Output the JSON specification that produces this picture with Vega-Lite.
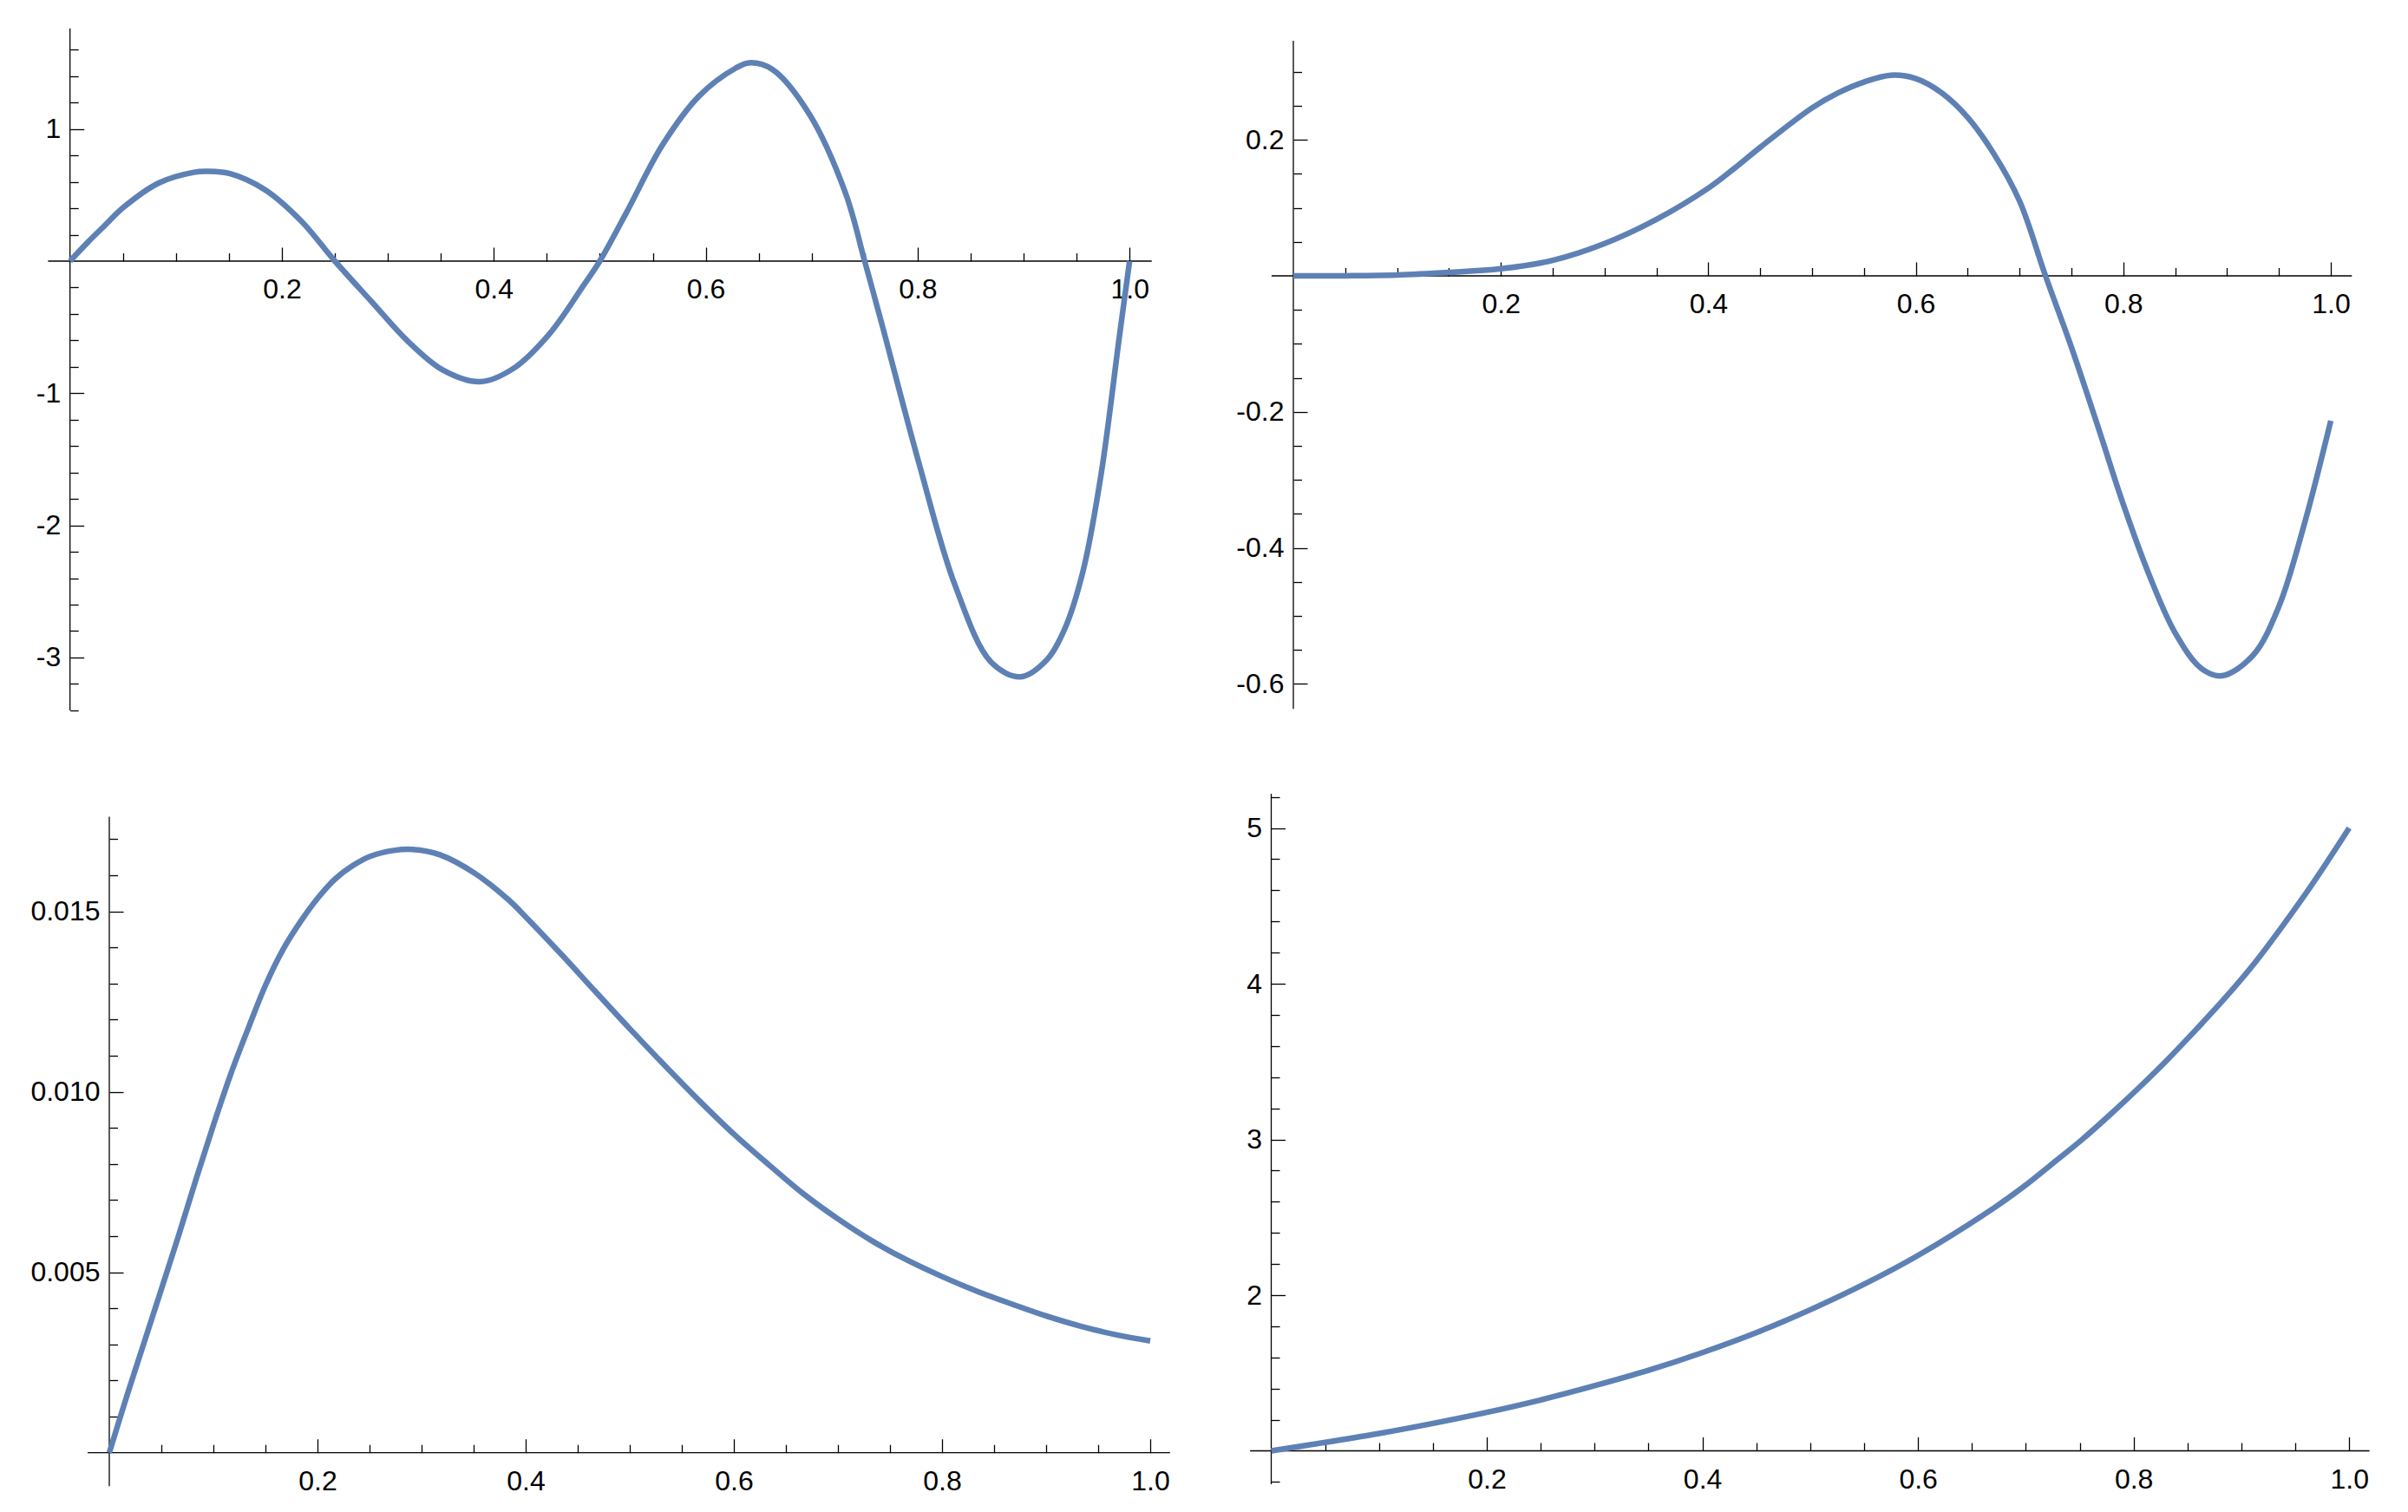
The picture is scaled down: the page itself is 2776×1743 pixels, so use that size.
{
  "$schema": "https://vega.github.io/schema/vega-lite/v6.json",
  "padding": {"left": 20, "top": 31, "right": 5, "bottom": 5},
  "background": "white",
  "config": {
    "view": {"stroke": null},
    "axis": {
      "domain": false,
      "grid": false,
      "labelFont": "Liberation Sans",
      "labelFontSize": 32,
      "labelColor": "black",
      "tickColor": "black",
      "tickWidth": 1.3,
      "labelFlush": false,
      "labelOverlap": false
    },
    "axisX": {"labelPadding": 33.6},
    "axisY": {"labelPadding": 27},
    "line": {"color": "#5E81B5", "strokeWidth": 6.5, "interpolate": "catmull-rom"},
    "rule": {"color": "black", "strokeWidth": 1.3}
  },
  "datasets": {
    "curve1": [
      {"x": 0, "y": 0}, {"x": 0.0167, "y": 0.142}, {"x": 0.0335, "y": 0.275}, {"x": 0.0502, "y": 0.405},
      {"x": 0.0837, "y": 0.591}, {"x": 0.117, "y": 0.672}, {"x": 0.129, "y": 0.679}, {"x": 0.151, "y": 0.662},
      {"x": 0.184, "y": 0.54}, {"x": 0.218, "y": 0.305}, {"x": 0.25, "y": 0}, {"x": 0.285, "y": -0.31},
      {"x": 0.318, "y": -0.6}, {"x": 0.352, "y": -0.825}, {"x": 0.387, "y": -0.913}, {"x": 0.418, "y": -0.815},
      {"x": 0.452, "y": -0.555}, {"x": 0.485, "y": -0.18}, {"x": 0.5, "y": 0}, {"x": 0.5248, "y": 0.362},
      {"x": 0.5593, "y": 0.881}, {"x": 0.5938, "y": 1.25}, {"x": 0.6283, "y": 1.461}, {"x": 0.641, "y": 1.501},
      {"x": 0.6628, "y": 1.451}, {"x": 0.6972, "y": 1.12}, {"x": 0.7317, "y": 0.52}, {"x": 0.75, "y": 0},
      {"x": 0.7662, "y": -0.476}, {"x": 0.8007, "y": -1.514}, {"x": 0.8352, "y": -2.452}, {"x": 0.8697, "y": -3.039},
      {"x": 0.8972, "y": -3.146}, {"x": 0.9214, "y": -3.022}, {"x": 0.9386, "y": -2.787}, {"x": 0.9559, "y": -2.352},
      {"x": 0.9731, "y": -1.615}, {"x": 0.9903, "y": -0.576}, {"x": 1, "y": 0}
    ],
    "curve2": [
      {"x": 0, "y": 0}, {"x": 0.05, "y": 0.0001}, {"x": 0.1, "y": 0.0012}, {"x": 0.15, "y": 0.005},
      {"x": 0.2, "y": 0.0104}, {"x": 0.25, "y": 0.0228}, {"x": 0.3, "y": 0.0475}, {"x": 0.35, "y": 0.083},
      {"x": 0.4, "y": 0.129}, {"x": 0.425, "y": 0.158}, {"x": 0.45, "y": 0.189}, {"x": 0.5, "y": 0.247},
      {"x": 0.525, "y": 0.269}, {"x": 0.55, "y": 0.285}, {"x": 0.576, "y": 0.295}, {"x": 0.6, "y": 0.29},
      {"x": 0.625, "y": 0.269}, {"x": 0.65, "y": 0.233}, {"x": 0.675, "y": 0.18}, {"x": 0.7, "y": 0.11},
      {"x": 0.725, "y": 0}, {"x": 0.75, "y": -0.105}, {"x": 0.775, "y": -0.219}, {"x": 0.8, "y": -0.336},
      {"x": 0.825, "y": -0.44}, {"x": 0.85, "y": -0.525}, {"x": 0.875, "y": -0.577}, {"x": 0.895, "y": -0.588},
      {"x": 0.925, "y": -0.558}, {"x": 0.95, "y": -0.486}, {"x": 0.975, "y": -0.362}, {"x": 1, "y": -0.213}
    ],
    "curve3": [
      {"x": 0, "y": 0}, {"x": 0.0166, "y": 0.00155}, {"x": 0.0333, "y": 0.00304}, {"x": 0.05, "y": 0.00453},
      {"x": 0.0666, "y": 0.00602}, {"x": 0.0839, "y": 0.00763}, {"x": 0.1005, "y": 0.00912}, {"x": 0.117, "y": 0.01052},
      {"x": 0.134, "y": 0.0118}, {"x": 0.15, "y": 0.01295}, {"x": 0.167, "y": 0.01395}, {"x": 0.184, "y": 0.01473},
      {"x": 0.2, "y": 0.01536}, {"x": 0.217, "y": 0.0159}, {"x": 0.234, "y": 0.01627}, {"x": 0.251, "y": 0.01653},
      {"x": 0.273, "y": 0.01669}, {"x": 0.2916, "y": 0.01672}, {"x": 0.3176, "y": 0.01657}, {"x": 0.351, "y": 0.01606},
      {"x": 0.384, "y": 0.01531}, {"x": 0.4, "y": 0.01485}, {"x": 0.434, "y": 0.01382}, {"x": 0.467, "y": 0.01278},
      {"x": 0.5, "y": 0.01175}, {"x": 0.534, "y": 0.01072}, {"x": 0.567, "y": 0.00975}, {"x": 0.6, "y": 0.00883},
      {"x": 0.634, "y": 0.00797}, {"x": 0.667, "y": 0.00717}, {"x": 0.7, "y": 0.00648}, {"x": 0.734, "y": 0.00585},
      {"x": 0.767, "y": 0.00533}, {"x": 0.801, "y": 0.00487}, {"x": 0.834, "y": 0.00447}, {"x": 0.868, "y": 0.00411},
      {"x": 0.901, "y": 0.00378}, {"x": 0.934, "y": 0.0035}, {"x": 0.967, "y": 0.00327}, {"x": 1, "y": 0.0031}
    ],
    "curve4": [
      {"x": 0, "y": 1}, {"x": 0.05, "y": 1.054}, {"x": 0.1, "y": 1.111}, {"x": 0.15, "y": 1.176},
      {"x": 0.2, "y": 1.247}, {"x": 0.25, "y": 1.327}, {"x": 0.3, "y": 1.418}, {"x": 0.35, "y": 1.517},
      {"x": 0.4, "y": 1.631}, {"x": 0.45, "y": 1.759}, {"x": 0.5, "y": 1.906}, {"x": 0.55, "y": 2.07},
      {"x": 0.6, "y": 2.255}, {"x": 0.6715, "y": 2.565}, {"x": 0.6983, "y": 2.698}, {"x": 0.7252, "y": 2.847},
      {"x": 0.752, "y": 2.998}, {"x": 0.7788, "y": 3.163}, {"x": 0.8057, "y": 3.337}, {"x": 0.8325, "y": 3.52},
      {"x": 0.8593, "y": 3.715}, {"x": 0.8861, "y": 3.918}, {"x": 0.9129, "y": 4.138}, {"x": 0.9397, "y": 4.385},
      {"x": 0.9666, "y": 4.648}, {"x": 1, "y": 5}
    ],
    "axes1": [
      {"x": -0.0207, "x2": 1.0209, "y": 0, "y2": 0},
      {"x": 0, "x2": 0, "y": -3.401, "y2": 1.762}
    ],
    "axes2": [
      {"x": -0.021, "x2": 1.0203, "y": 0, "y2": 0},
      {"x": 0, "x2": 0, "y": -0.6367, "y2": 0.3458}
    ],
    "axes3": [
      {"x": -0.0208, "x2": 1.019, "y": 0, "y2": 0},
      {"x": 0, "x2": 0, "y": -0.000928, "y2": 0.017625}
    ],
    "axes4": [
      {"x": -0.0196, "x2": 1.0189, "y": 1, "y2": 1},
      {"x": 0, "x2": 0, "y": 0.7855, "y2": 5.2195}
    ]
  },
  "columns": 2,
  "align": "each",
  "bounds": "flush",
  "spacing": {"row": 95, "column": 91},
  "concat": [
    {
      "width": 1330,
      "height": 788,
      "encoding": {
        "x": {
          "field": "x", "type": "quantitative",
          "scale": {"domain": [-0.04969, 1.03913], "nice": false, "zero": false},
          "axis": {
            "title": null, "orient": "bottom", "offset": -519,
            "values": [0.05, 0.1, 0.15, 0.2, 0.25, 0.3, 0.35, 0.4, 0.45, 0.5, 0.55, 0.6, 0.65, 0.7, 0.75, 0.8, 0.85, 0.9, 0.95, 1],
            "tickSize": {"condition": {"test": "indexof([0.2, 0.4, 0.6, 0.8, 1], datum.value) >= 0", "value": -16}, "value": -9.5},
            "labelExpr": "indexof([0.2, 0.4, 0.6, 0.8, 1], datum.value) >= 0 ? format(datum.value, '.1f') : ''"
          }
        },
        "y": {
          "field": "y", "type": "quantitative",
          "scale": {"domain": [-3.40775, 1.76625], "nice": false, "zero": false},
          "axis": {
            "title": null, "orient": "left", "offset": -60.7,
            "values": [-3.4, -3.2, -3, -2.8, -2.6, -2.4, -2.2, -2, -1.8, -1.6, -1.4, -1.2, -1, -0.8, -0.6, -0.4, -0.2, 0.2, 0.4, 0.6, 0.8, 1, 1.2, 1.4, 1.6],
            "tickSize": {"condition": {"test": "indexof([1, -1, -2, -3], datum.value) >= 0", "value": -16}, "value": -9.5},
            "labelExpr": "indexof([1, -1, -2, -3], datum.value) >= 0 ? toString(datum.value) : ''"
          }
        }
      },
      "layer": [
        {"data": {"name": "axes1"}, "mark": "rule", "encoding": {"x2": {"field": "x2"}, "y2": {"field": "y2"}}},
        {"data": {"name": "curve1"}, "mark": "line", "encoding": {}}
      ]
    },
    {
      "width": 1292,
      "height": 788,
      "encoding": {
        "x": {
          "field": "x", "type": "quantitative",
          "scale": {"domain": [-0.04181, 1.03846], "nice": false, "zero": false},
          "axis": {
            "title": null, "orient": "bottom", "offset": -502,
            "values": [0.05, 0.1, 0.15, 0.2, 0.25, 0.3, 0.35, 0.4, 0.45, 0.5, 0.55, 0.6, 0.65, 0.7, 0.75, 0.8, 0.85, 0.9, 0.95, 1],
            "tickSize": {"condition": {"test": "indexof([0.2, 0.4, 0.6, 0.8, 1], datum.value) >= 0", "value": -16}, "value": -9.5},
            "labelExpr": "indexof([0.2, 0.4, 0.6, 0.8, 1], datum.value) >= 0 ? format(datum.value, '.1f') : ''"
          }
        },
        "y": {
          "field": "y", "type": "quantitative",
          "scale": {"domain": [-0.64031, 0.3648], "nice": false, "zero": false},
          "axis": {
            "title": null, "orient": "left", "offset": -50,
            "values": [-0.6, -0.55, -0.5, -0.45, -0.4, -0.35, -0.3, -0.25, -0.2, -0.15, -0.1, -0.05, 0.05, 0.1, 0.15, 0.2, 0.25, 0.3],
            "tickSize": {"condition": {"test": "indexof([0.2, -0.2, -0.4, -0.6], datum.value) >= 0", "value": -16}, "value": -9.5},
            "labelExpr": "indexof([0.2, -0.2, -0.4, -0.6], datum.value) >= 0 ? toString(datum.value) : ''"
          }
        }
      },
      "layer": [
        {"data": {"name": "axes2"}, "mark": "rule", "encoding": {"x2": {"field": "x2"}, "y2": {"field": "y2"}}},
        {"data": {"name": "curve2"}, "mark": "line", "encoding": {}}
      ]
    },
    {
      "width": 1330,
      "height": 799,
      "encoding": {
        "x": {
          "field": "x", "type": "quantitative",
          "scale": {"domain": [-0.08833, 1.02], "nice": false, "zero": false},
          "axis": {
            "title": null, "orient": "bottom", "offset": -39.3,
            "values": [0.05, 0.1, 0.15, 0.2, 0.25, 0.3, 0.35, 0.4, 0.45, 0.5, 0.55, 0.6, 0.65, 0.7, 0.75, 0.8, 0.85, 0.9, 0.95, 1],
            "tickSize": {"condition": {"test": "indexof([0.2, 0.4, 0.6, 0.8, 1], datum.value) >= 0", "value": -16}, "value": -9.5},
            "labelExpr": "indexof([0.2, 0.4, 0.6, 0.8, 1], datum.value) >= 0 ? format(datum.value, '.1f') : ''"
          }
        },
        "y": {
          "field": "y", "type": "quantitative",
          "scale": {"domain": [-0.000945, 0.018262], "nice": false, "zero": false},
          "axis": {
            "title": null, "orient": "left", "offset": -106,
            "values": [0.001, 0.002, 0.003, 0.004, 0.005, 0.006, 0.007, 0.008, 0.009, 0.01, 0.011, 0.012, 0.013, 0.014, 0.015, 0.016, 0.017],
            "tickSize": {"condition": {"test": "indexof([0.005, 0.01, 0.015], datum.value) >= 0", "value": -16}, "value": -9.5},
            "labelExpr": "indexof([0.005, 0.01, 0.015], datum.value) >= 0 ? format(datum.value, '.3f') : ''"
          }
        }
      },
      "layer": [
        {"data": {"name": "axes3"}, "mark": "rule", "encoding": {"x2": {"field": "x2"}, "y2": {"field": "y2"}}},
        {"data": {"name": "curve3"}, "mark": "line", "encoding": {}}
      ]
    },
    {
      "width": 1292,
      "height": 799,
      "encoding": {
        "x": {
          "field": "x", "type": "quantitative",
          "scale": {"domain": [-0.01972, 1.01996], "nice": false, "zero": false},
          "axis": {
            "title": null, "orient": "bottom", "offset": -41.5,
            "values": [0.05, 0.1, 0.15, 0.2, 0.25, 0.3, 0.35, 0.4, 0.45, 0.5, 0.55, 0.6, 0.65, 0.7, 0.75, 0.8, 0.85, 0.9, 0.95, 1],
            "tickSize": {"condition": {"test": "indexof([0.2, 0.4, 0.6, 0.8, 1], datum.value) >= 0", "value": -16}, "value": -9.5},
            "labelExpr": "indexof([0.2, 0.4, 0.6, 0.8, 1], datum.value) >= 0 ? format(datum.value, '.1f') : ''"
          }
        },
        "y": {
          "field": "y", "type": "quantitative",
          "scale": {"domain": [0.7688, 5.22006], "nice": false, "zero": false},
          "axis": {
            "title": null, "orient": "left", "offset": -24.5,
            "values": [0.8, 1.2, 1.4, 1.6, 1.8, 2, 2.2, 2.4, 2.6, 2.8, 3, 3.2, 3.4, 3.6, 3.8, 4, 4.2, 4.4, 4.6, 4.8, 5, 5.2],
            "tickSize": {"condition": {"test": "indexof([2, 3, 4, 5], datum.value) >= 0", "value": -16}, "value": -9.5},
            "labelExpr": "indexof([2, 3, 4, 5], datum.value) >= 0 ? toString(datum.value) : ''"
          }
        }
      },
      "layer": [
        {"data": {"name": "axes4"}, "mark": "rule", "encoding": {"x2": {"field": "x2"}, "y2": {"field": "y2"}}},
        {"data": {"name": "curve4"}, "mark": "line", "encoding": {}}
      ]
    }
  ]
}
